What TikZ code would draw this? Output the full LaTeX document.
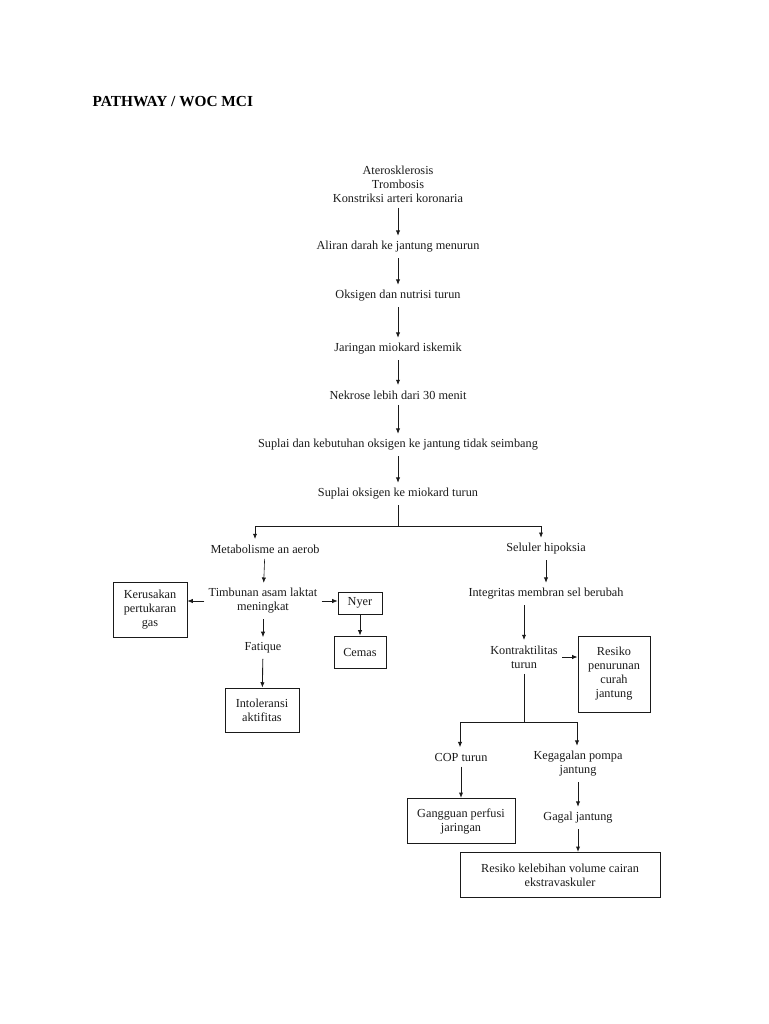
\documentclass[tikz,border=0pt]{standalone}
\usepackage{fontspec}
\setmainfont{Liberation Serif}
\usepackage{tikz}
\usetikzlibrary{arrows.meta,positioning,calc}
\definecolor{ink}{HTML}{1A1A1A}
\tikzset{stage/.style={align=center,font=\fontsize{9.2}{10.5}\selectfont,inner xsep=3pt,inner ysep=4pt,text=ink}, outcome/.style={draw=ink,line width=0.65pt,align=center,font=\fontsize{9.2}{10.5}\selectfont,inner sep=2pt,text=ink}, flow/.style={-{Latex[length=4pt,width=3.2pt]},line width=0.65pt,draw=ink}, link/.style={line width=0.65pt,draw=ink}}

\begin{document}
\begin{tikzpicture}[x=0.75pt,y=-0.75pt]
\useasboundingbox (0,0) rectangle (768,1024);
\node[anchor=west,font=\fontsize{11.5}{14}\selectfont\bfseries] (title) at (88,102) {PATHWAY / WOC MCI};
\node[stage] (sebab) at (398,184) {Aterosklerosis\\Trombosis\\Konstriksi arteri koronaria};
\node[stage] (aliran) at (398,247) {Aliran darah ke jantung menurun};
\node[stage] (oksigen) at (398,296) {Oksigen dan nutrisi turun};
\node[stage] (iskemik) at (398,349) {Jaringan miokard iskemik};
\node[stage] (nekrose) at (398,395) {Nekrose lebih dari 30 menit};
\node[stage] (suplai) at (398,445) {Suplai dan kebutuhan oksigen ke jantung tidak seimbang};
\node[stage] (miokard) at (398,494) {Suplai oksigen ke miokard turun};
\coordinate (bagi) at (398,526);
\coordinate (kiri) at (255,526);
\coordinate (kanan) at (541,526);
\node[stage] (metab) at (265,549) {Metabolisme an aerob};
\node[stage] (laktat) at (263,601) {Timbunan asam laktat\\meningkat};
\node[outcome,minimum width=55.5pt,minimum height=41pt] (gas) at (150,610) {Kerusakan\\pertukaran\\gas};
\node[outcome,minimum width=33pt,minimum height=16.5pt] (nyer) at (360,603) {Nyer};
\node[outcome,minimum width=39pt,minimum height=24pt] (cemas) at (360,652) {Cemas};
\node[stage] (fatique) at (263,648) {Fatique};
\node[outcome,minimum width=55.5pt,minimum height=33pt] (intol) at (262,710) {Intoleransi\\aktifitas};
\node[stage] (hipoksia) at (546,549) {Seluler hipoksia};
\node[stage] (membran) at (546,594) {Integritas membran sel berubah};
\node[stage] (kontrak) at (524,657) {Kontraktilitas\\turun};
\node[outcome,minimum width=54pt,minimum height=57pt] (curah) at (614,674) {Resiko\\penurunan\\curah\\jantung};
\coordinate (bagi2) at (524,722);
\coordinate (kiri2) at (460,722);
\coordinate (kanan2) at (577,722);
\node[stage] (cop) at (461,757) {COP turun};
\node[stage] (pompa) at (578,764) {Kegagalan pompa\\jantung};
\node[outcome,minimum width=81pt,minimum height=34pt] (perfusi) at (461,821) {Gangguan perfusi\\jaringan};
\node[stage] (gagal) at (578,818) {Gagal jantung};
\node[outcome,minimum width=150pt,minimum height=34pt] (cairan) at (560,875) {Resiko kelebihan volume cairan\\ekstravaskuler};
\draw[flow] (sebab) -- (aliran);
\draw[flow] (aliran) -- (oksigen);
\draw[flow] (oksigen) -- (iskemik);
\draw[flow] (iskemik) -- (nekrose);
\draw[flow] (nekrose) -- (suplai);
\draw[flow] (suplai) -- (miokard);
\draw[link] (miokard) -- (bagi);
\draw[flow] (bagi) -- (kiri) -- (kiri |- metab.north);
\draw[flow] (bagi) -- (kanan) -- (kanan |- hipoksia.north);
\draw[flow,line width=0.45pt] (metab) -- (laktat);
\draw[flow,line width=0.45pt] (laktat.west) -- (laktat.west -| gas.east);
\draw[flow,line width=0.45pt] (laktat.east) -- (laktat.east -| nyer.west);
\draw[flow] (nyer) -- (cemas);
\draw[flow,line width=0.45pt] (laktat) -- (fatique);
\draw[flow] (fatique) -- (intol);
\draw[flow] (hipoksia) -- (membran);
\draw[flow] (membran.south -| kontrak) -- (kontrak);
\draw[flow] (kontrak.east) -- (kontrak.east -| curah.west);
\draw[link] (kontrak) -- (bagi2);
\draw[flow] (bagi2) -- (kiri2) -- (kiri2 |- cop.north);
\draw[flow] (bagi2) -- (kanan2) -- (kanan2 |- pompa.north);
\draw[flow] (cop) -- (perfusi);
\draw[flow] (pompa) -- (gagal);
\draw[flow] (gagal) -- (gagal |- cairan.north);
\end{tikzpicture}
\end{document}
